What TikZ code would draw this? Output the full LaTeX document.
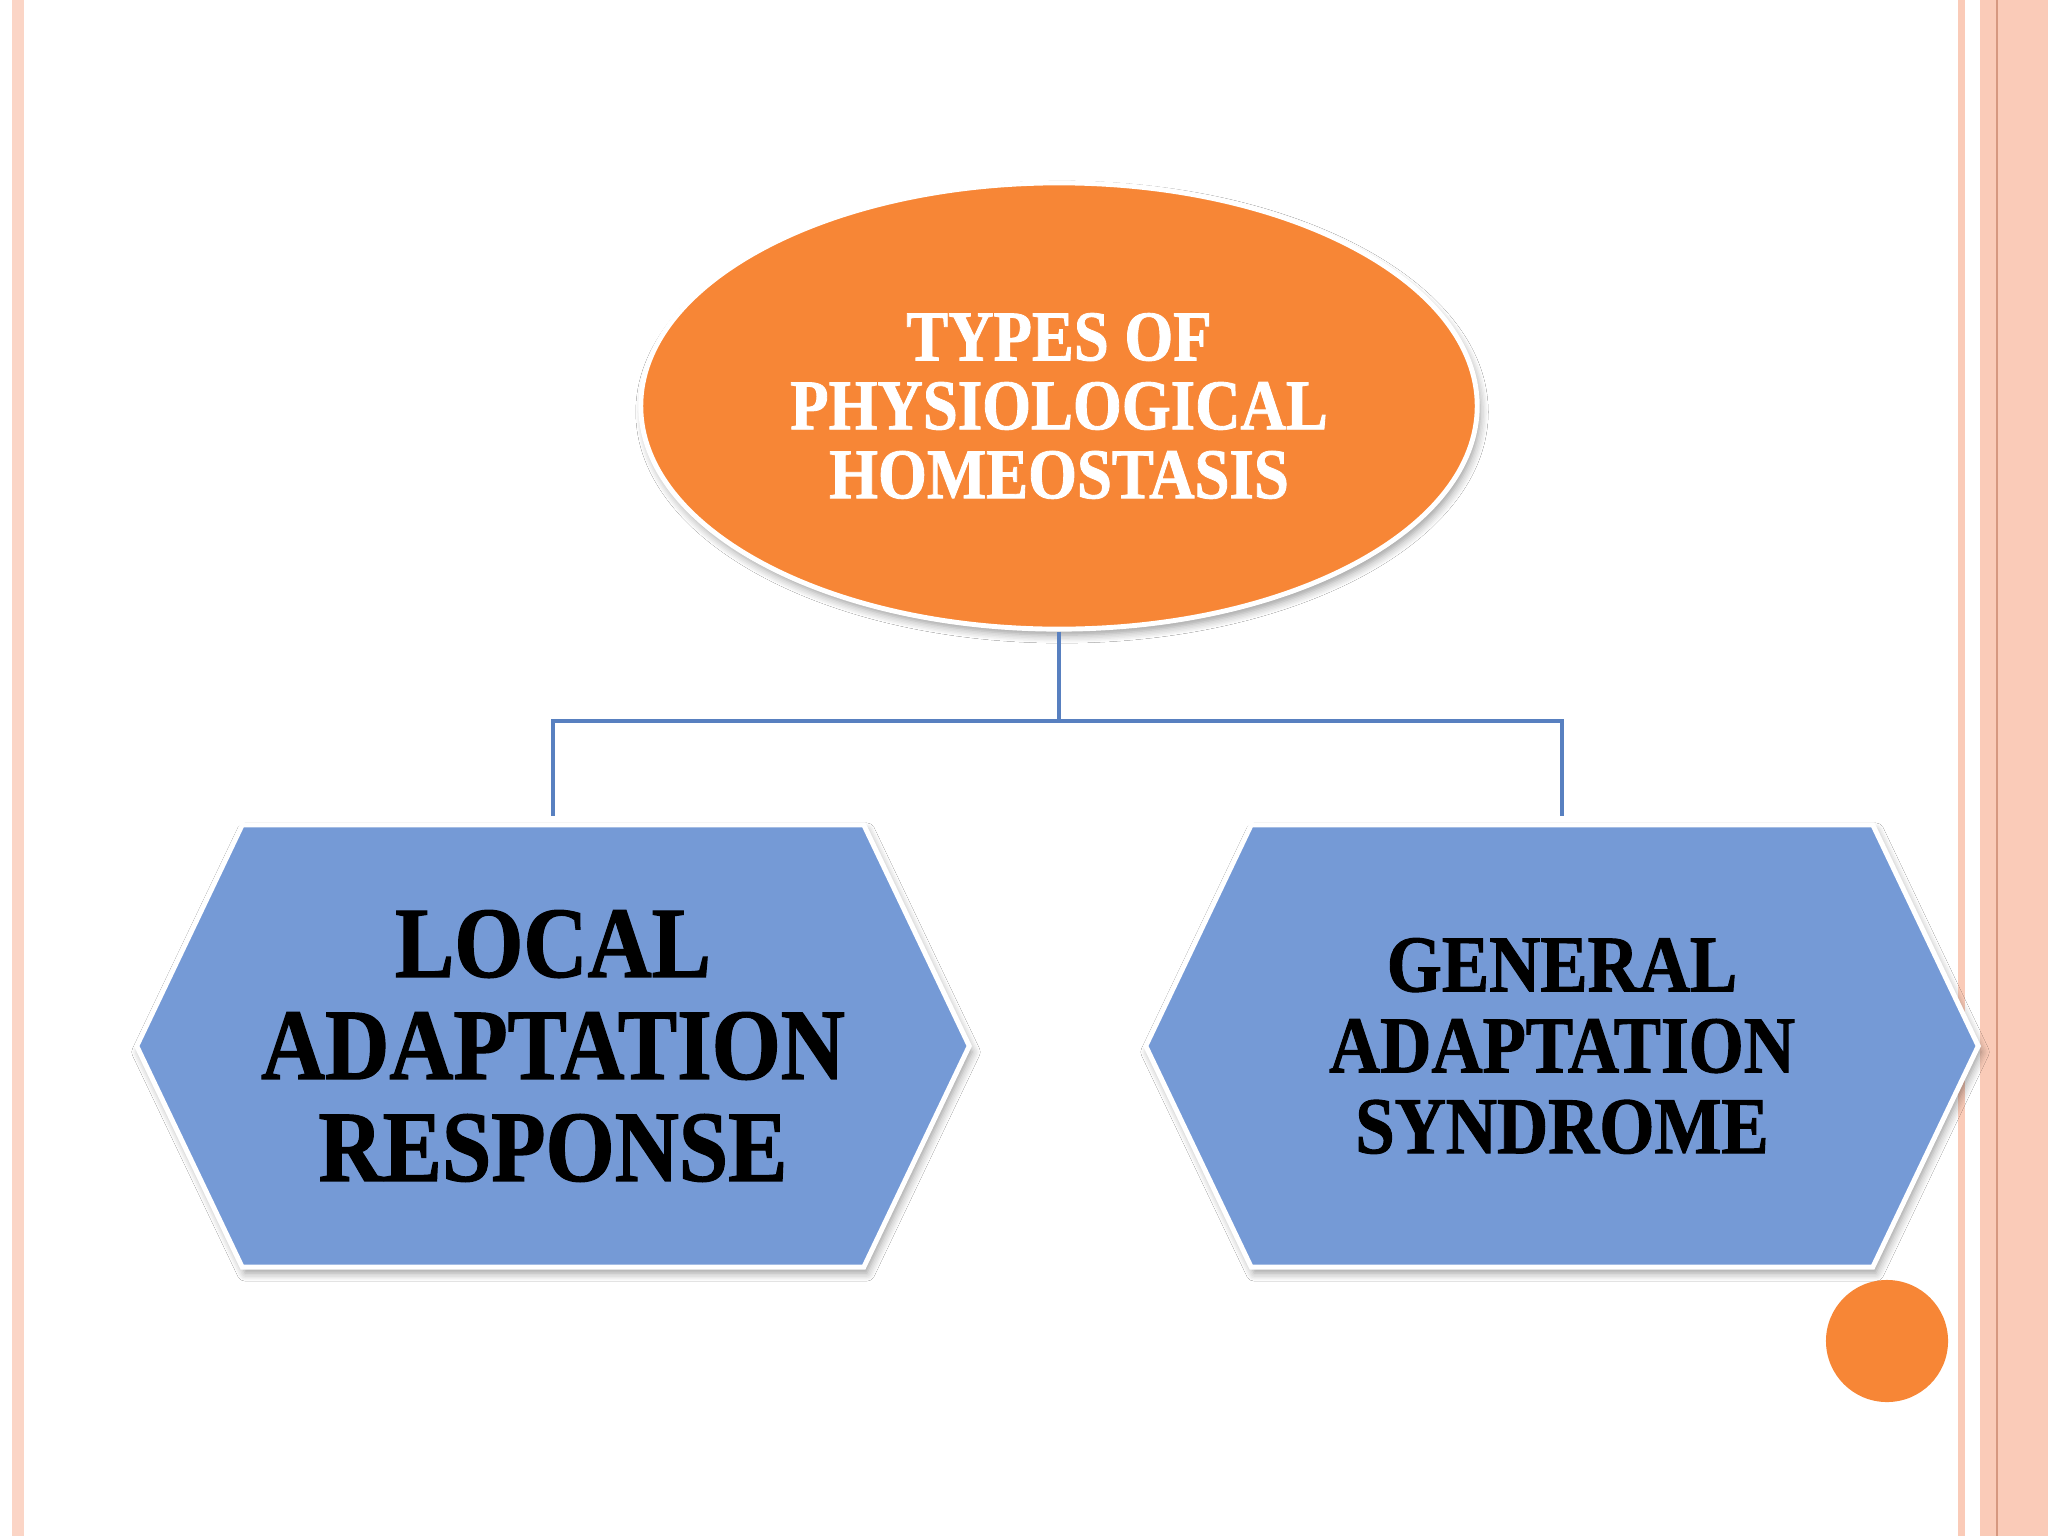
\documentclass[tikz,border=0pt]{standalone}
\usepackage{fontspec}
\setmainfont{Liberation Serif}[FakeStretch=0.88, BoldFeatures={FakeBold=1.2}]
\usetikzlibrary{shapes.symbols,shapes.geometric,shadows.blur}

\definecolor{slideorange}{RGB}{247,134,54}
\definecolor{slideblue}{RGB}{117,154,214}
\definecolor{linkblue}{RGB}{88,128,192}
\definecolor{salmon}{RGB}{250,203,184}
\definecolor{salmondark}{RGB}{214,152,128}

\begin{document}
\begin{tikzpicture}[x=0.01cm,y=-0.01cm]
	\tikzset{
		shade box/.style={draw=white, line width=1.4pt,
			blur shadow={shadow xshift=0.03cm, shadow yshift=-0.06cm, shadow blur radius=0.08cm,
				shadow blur steps=6, shadow opacity=40}},
		hexbox/.style={shade box, shape=signal, signal to=west and east, signal pointer angle=129,
			fill=slideblue, minimum width=8.32cm, minimum height=4.42cm, align=center, font=\bfseries},
		link/.style={linkblue, line width=1.1pt}
	}
	\useasboundingbox (0,0) rectangle (2048,1536);
	\fill[white] (0,0) rectangle (2048,1536);
	
	% page border
	\fill[salmon!80] (12,0) rectangle (24,1536);
	\fill[salmon] (1958,0) rectangle (1965,1536);
	\fill[salmon] (1980,0) rectangle (2048,1536);
	\draw[salmondark, line width=0.6pt] (1997,0) -- (1997,1536);
	
	\node[shade box, ellipse, fill=slideorange, minimum width=8.36cm, minimum height=4.46cm,
		align=center, text=white, font=\bfseries\fontsize{20.3}{19.6}\selectfont](types) at (1059,406)
		{TYPES OF\\PHYSIOLOGICAL\\HOMEOSTASIS};
	
	\node[hexbox, font=\bfseries\fontsize{28.7}{29}\selectfont](local) at (553,1046)
		{LOCAL\\ADAPTATION\\RESPONSE};
	\node[hexbox, font=\bfseries\fontsize{22.9}{23}\selectfont](general) at (1562,1046)
		{GENERAL\\ADAPTATION\\SYNDROME};
	
	\coordinate (split) at (1059,721);
	\draw[link] (types.south) -- (split);
	\draw[link] (split) -| ([yshift=0.06cm]local.north);
	\draw[link] (split) -| ([yshift=0.06cm]general.north);
	
	\node[circle, fill=slideorange, minimum size=1.22cm, inner sep=0pt](dot) at (1887,1341) {};
\end{tikzpicture}
\end{document}
